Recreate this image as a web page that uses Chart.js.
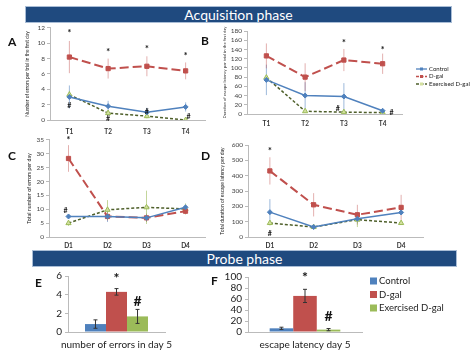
<!DOCTYPE html>
<html>
<head>
<meta charset="utf-8">
<script src="https://cdn.jsdelivr.net/npm/chart.js@4.4.0/dist/chart.umd.min.js"></script>
<style>
body { margin: 0; background: #fff; font-family: Lato, sans-serif; }
#page { position: relative; width: 474px; height: 353px; overflow: hidden; }
canvas { position: absolute; }
.banner { position: absolute; z-index: 2; background: #1f4a7f; color: #fff; font-size: 14px; text-align: center;
  line-height: 15px; border: 1px solid #a9bdd6; box-sizing: border-box; }
.letter { position: absolute; z-index: 2; font-weight: bold; font-size: 12px; color: #111; }
</style>
</head>
<body>
<div id="page">
  <canvas id="chartA" width="215" height="126" style="left:0;top:22px"></canvas>
  <canvas id="chartB" width="274" height="118" style="left:200px;top:22px"></canvas>
  <canvas id="chartC" width="215" height="120" style="left:0;top:134px"></canvas>
  <canvas id="chartD" width="230" height="120" style="left:200px;top:134px"></canvas>
  <canvas id="chartE" width="175" height="87" style="left:20px;top:266px"></canvas>
  <canvas id="chartF" width="259" height="87" style="left:215px;top:266px"></canvas>

  <div class="banner" style="left:25px;top:6px;width:427px;height:17px">Acquisition phase</div>
  <div class="banner" style="left:32px;top:250px;width:425px;height:17px">Probe phase</div>
  <div class="letter" style="left:8px;top:34px">A</div>
  <div class="letter" style="left:201px;top:33px">B</div>
  <div class="letter" style="left:8px;top:148px">C</div>
  <div class="letter" style="left:201px;top:148px">D</div>
  <div class="letter" style="left:35px;top:275px">E</div>
  <div class="letter" style="left:211px;top:273px">F</div>
</div>
<script>
var groups = ['Control', 'D-gal', 'Exercised D-gal'];
var trials = ['T1', 'T2', 'T3', 'T4'];
var days = ['D1', 'D2', 'D3', 'D4'];

// A: errors per trial, first day
var aControl = [3.0, 1.8, 1.0, 1.7], aControlErr = [1.5, 0.7, 0.6, 0.6];
var aDgal = [8.2, 6.7, 7.0, 6.4], aDgalErr = [2.1, 1.3, 1.3, 1.1];
var aExer = [3.3, 0.9, 0.5, 0.0], aExerErr = [0.5, 0.3, 0.3, 0.1];
var aStars = [11.3, 8.8, 9.2, 8.3];
var aHash = [1.9, 0.1, 1.1, 0.4];

// B: escape latency per trial, first day
var bControl = [74, 40, 38, 7], bControlErr = [33, 29, 29, 3];
var bDgal = [126, 80, 117, 109], bDgalErr = [27, 30, 24, 22];
var bExer = [79, 6, 4, 3], bExerErr = [5, 2, 2, 1];
var bStars = [null, null, 153, 138];
var bHash = [null, null, 11, 2];

// C: total errors per day
var cControl = [7.4, 7.4, 6.9, 10.7], cControlErr = [0.5, 2, 1.5, 1];
var cDgal = [28.3, 7.4, 6.9, 9.3], cDgalErr = [4.8, 1.5, 1.5, 1];
var cExer = [5.0, 9.8, 10.7, 10.1], cExerErr = [1, 3.5, 6, 2];
var cStars = [35, null, null, null];
var cHash = [9.3, null, null, null];

// D: total escape latency per day
var dControl = [162, 65, 119, 160], dControlErr = [85, 10, 30, 15];
var dDgal = [431, 210, 145, 193], dDgalErr = [89, 76, 65, 82];
var dExer = [91, 65, 113, 91], dExerErr = [15, 10, 48, 10];
var dStars = [557, null, null, null];
var dHash = [22, null, null, null];

// E / F: probe phase, day 5
var eLabel = ['number of errors in day 5'];
var eValues = [0.85, 4.3, 1.67], eErr = [0.45, 0.35, 0.75];
var fLabel = ['escape latency day 5'];
var fValues = [6.7, 65.6, 4.3], fErr = [2, 12, 2];
var eStar = 5.7, eHash = 3.3;
var fStar = 100, fHash = 29;

var colors = ['#4f81bd', '#c0504d', '#9bbb59'];
var errColors = ['rgba(79,129,189,0.55)', 'rgba(192,80,77,0.45)', 'rgba(155,187,89,0.6)'];
var FONT = 'Lato';

function drawErr(chart) {
  var ctx = chart.ctx, y = chart.scales.y;
  chart.data.datasets.forEach(function (ds, i) {
    if (!ds.err) return;
    var meta = chart.getDatasetMeta(i);
    meta.data.forEach(function (el, j) {
      var v = ds.data[j], e = ds.err[j];
      var top = y.getPixelForValue(v + e), bot = y.getPixelForValue(Math.max(v - e, y.min));
      ctx.save();
      ctx.strokeStyle = ds.errColor;
      ctx.lineWidth = 1;
      ctx.beginPath();
      ctx.moveTo(el.x, top); ctx.lineTo(el.x, bot);
      if (ds.errCap) {
        ctx.moveTo(el.x - ds.errCap, top); ctx.lineTo(el.x + ds.errCap, top);
        ctx.moveTo(el.x - ds.errCap, bot); ctx.lineTo(el.x + ds.errCap, bot);
      }
      ctx.stroke();
      ctx.restore();
    });
  });
}

var errPlugin = {
  id: 'errBars',
  beforeDatasetsDraw: function (chart) { if (chart.config.type === 'line') drawErr(chart); },
  afterDatasetsDraw: function (chart) { if (chart.config.type === 'bar') drawErr(chart); }
};

var markPlugin = {
  id: 'marks',
  afterDatasetsDraw: function (chart, args, opts) {
    var ctx = chart.ctx, y = chart.scales.y;
    (opts.items || []).forEach(function (m) {
      var el = chart.getDatasetMeta(m.ds || 0).data[m.i];
      ctx.save();
      ctx.fillStyle = '#111';
      ctx.font = 'bold ' + m.size + 'px ' + FONT;
      ctx.textAlign = 'center';
      ctx.textBaseline = 'middle';
      ctx.fillText(m.t, el.x + (m.dx || 0), y.getPixelForValue(m.v));
      ctx.restore();
    });
  }
};

// legend drawn beside the plot, from the chart's own datasets
var sideLegend = {
  id: 'sideLegend',
  afterDraw: function (chart, args, o) {
    if (!o.x) return;
    var ctx = chart.ctx;
    chart.data.datasets.forEach(function (ds, k) {
      var y = o.y + k * o.gap;
      ctx.save();
      if (o.kind === 'line') {
        ctx.strokeStyle = ds.borderColor;
        ctx.lineWidth = 1.3;
        ctx.setLineDash(ds.borderDash ? [3, 1.5] : []);
        ctx.beginPath(); ctx.moveTo(o.x, y); ctx.lineTo(o.x + o.w, y); ctx.stroke();
        ctx.setLineDash([]);
        ctx.fillStyle = ds.pointBackgroundColor || ds.backgroundColor;
        ctx.fillRect(o.x + o.w / 2 - 1.5, y - 1.5, 3, 3);
      } else {
        ctx.fillStyle = ds.backgroundColor;
        ctx.fillRect(o.x, y - o.w / 2, o.w, o.w);
      }
      ctx.fillStyle = '#222';
      ctx.font = o.size + 'px ' + FONT;
      ctx.textBaseline = 'middle';
      ctx.fillText(ds.label, o.x + o.w + 2, y);
      ctx.restore();
    });
  }
};

function buildMarks(stars, hashes, hashDx) {
  var items = [];
  stars.forEach(function (v, i) { if (v !== null) items.push({ t: '*', i: i, v: v, size: 9 }); });
  hashes.forEach(function (v, i) { if (v !== null) items.push({ t: '#', i: i, v: v, size: 7, dx: hashDx[i] }); });
  return items;
}

function lineSets(c, d, e, cErr, dErr, eErr) {
  return [
    { label: groups[0], data: c, err: cErr, errColor: errColors[0], borderColor: colors[0], backgroundColor: colors[0],
      borderWidth: 1.5, pointStyle: 'rectRot', pointRadius: 2.5, pointBorderWidth: 1 },
    { label: groups[1], data: d, err: dErr, errColor: errColors[1], borderColor: colors[1], backgroundColor: colors[1],
      borderWidth: 2, borderDash: [9, 4], pointStyle: 'rect', pointRadius: 3, pointBorderWidth: 1 },
    { label: groups[2], data: e, err: eErr, errColor: errColors[2], borderColor: '#4e5f2a', backgroundColor: colors[2],
      pointBackgroundColor: '#d3e09f', pointBorderColor: colors[2], borderWidth: 1.5, borderDash: [3, 2],
      pointStyle: 'triangle', pointRadius: 3, pointBorderWidth: 1 }
  ];
}

function lineChart(id, labels, sets, o) {
  return new Chart(document.getElementById(id), {
    type: 'line',
    data: { labels: labels, datasets: sets },
    plugins: [errPlugin, markPlugin, sideLegend],
    options: {
      responsive: false,
      animation: false,
      layout: { padding: { left: o.padLeft, top: o.padTop, right: o.padRight || 0, bottom: 0 } },
      plugins: {
        legend: { display: false },
        tooltip: { enabled: false },
        marks: { items: o.marks },
        sideLegend: o.legend || {}
      },
      scales: {
        x: {
          offset: true,
          grid: { display: false, drawTicks: false, tickLength: 0 },
          border: { color: '#bbb' },
          ticks: { color: '#333', padding: o.xPad, font: { size: 6.5, weight: 'bold', family: FONT } },
          afterFit: function (s) { s.height = o.xHeight; }
        },
        y: {
          min: o.min, max: o.max,
          grid: { drawOnChartArea: false, tickLength: 3, color: '#bbb' },
          border: { color: '#bbb' },
          ticks: { stepSize: o.step, autoSkip: false, color: '#444', padding: 2, font: { size: 6.5, family: FONT } },
          title: { display: true, text: o.title, color: '#222', padding: 0, font: { size: o.titleSize, family: FONT } },
          afterFit: function (s) { s.width = o.yWidth; }
        }
      }
    }
  });
}

lineChart('chartA', trials, lineSets(aControl, aDgal, aExer, aControlErr, aDgalErr, aExerErr), {
  min: 0, max: 12, step: 2, title: 'Number of errors per trial in the first day', titleSize: 4.8,
  padLeft: 25, padTop: 4, padRight: 10, yWidth: 25, xHeight: 28, xPad: 8,
  marks: buildMarks(aStars, aHash, [0, 0, 0, 3])
});

lineChart('chartB', trials, lineSets(bControl, bDgal, bExer, bControlErr, bDgalErr, bExerErr), {
  min: 0, max: 180, step: 20, title: 'Duration of escape latency per trial in the first day', titleSize: 4.2,
  padLeft: 22, padTop: 9, padRight: 72, yWidth: 25, xHeight: 26, xPad: 6,
  legend: { x: 216, y: 47, gap: 7.5, w: 11, size: 6, kind: 'line' },
  marks: buildMarks(bStars, bHash, [0, 0, -6, 9])
});

lineChart('chartC', days, lineSets(cControl, cDgal, cExer, cControlErr, cDgalErr, cExerErr), {
  min: 0, max: 35, step: 5, title: 'Total number of errors per day', titleSize: 5.3,
  padLeft: 26, padTop: 4, padRight: 10, yWidth: 23, xHeight: 17, xPad: 5,
  marks: buildMarks(cStars, cHash, [-3, 0, 0, 0])
});

lineChart('chartD', days, lineSets(dControl, dDgal, dExer, dControlErr, dDgalErr, dExerErr), {
  min: 0, max: 600, step: 100, title: 'Total duration of escape latency per day', titleSize: 5,
  padLeft: 19, padTop: 11, padRight: 7, yWidth: 29, xHeight: 17, xPad: 5,
  marks: buildMarks(dStars, dHash, [0, 0, 0, 0])
});

function barChart(id, label, values, errs, o) {
  var sets = groups.map(function (g, k) {
    return { label: g, data: [values[k]], err: [errs[k]], errColor: '#333', errCap: 2,
      backgroundColor: colors[k], categoryPercentage: o.cat, barPercentage: 1 };
  });
  return new Chart(document.getElementById(id), {
    type: 'bar',
    data: { labels: label, datasets: sets },
    plugins: [errPlugin, markPlugin, sideLegend],
    options: {
      responsive: false,
      animation: false,
      layout: { padding: { left: 0, top: o.padTop, right: o.padRight, bottom: 0 } },
      plugins: {
        legend: { display: false },
        tooltip: { enabled: false },
        sideLegend: o.legend || {},
        marks: { items: [
          { t: '*', ds: 1, i: 0, v: o.star, size: 14 },
          { t: '#', ds: 2, i: 0, v: o.hash, size: 14 }
        ] }
      },
      scales: {
        x: {
          grid: { display: false, drawTicks: false, tickLength: 0 },
          border: { color: '#bbb' },
          ticks: { color: '#222', padding: 7, font: { size: 10, family: FONT } },
          afterFit: function (s) { s.height = 21; }
        },
        y: {
          min: 0, max: o.max,
          grid: { drawOnChartArea: false, tickLength: 3, color: '#bbb' },
          border: { color: '#bbb' },
          ticks: { stepSize: o.step, autoSkip: false, color: '#222', padding: 3, font: { size: 10, family: FONT } },
          afterFit: function (s) { s.width = o.yWidth; }
        }
      }
    }
  });
}

barChart('chartE', eLabel, eValues, eErr, { max: 6, step: 2, cat: 0.65, padTop: 10, padRight: 30, yWidth: 48, star: eStar, hash: eHash });
barChart('chartF', fLabel, fValues, fErr, { max: 100, step: 20, cat: 0.62, padTop: 11, padRight: 112, yWidth: 33,
  legend: { x: 155, y: 15, gap: 13.5, w: 7, size: 9.5, kind: 'box' }, star: fStar, hash: fHash });
</script>
</body>
</html>
